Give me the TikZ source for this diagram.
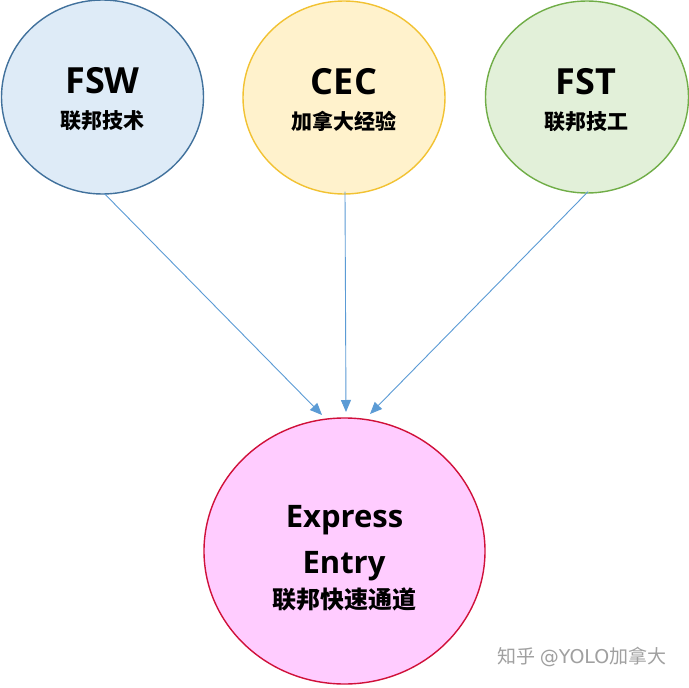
\documentclass[tikz,border=0pt]{standalone}
\usepackage{fontspec}
\setmainfont{Open Sans}
\newfontfamily\cjk{Noto Sans CJK SC}
\newfontfamily\wmlat{DejaVu Sans}
\usetikzlibrary{shapes.geometric,arrows.meta}
\definecolor{fswf}{HTML}{DEEBF7}
\definecolor{fswd}{HTML}{41719C}
\definecolor{cecf}{HTML}{FFF2CC}
\definecolor{cecd}{HTML}{F2C232}
\definecolor{fstf}{HTML}{E2F0D9}
\definecolor{fstd}{HTML}{70AD47}
\definecolor{eef}{HTML}{FFCCFF}
\definecolor{eed}{HTML}{D0103A}
\definecolor{arr}{HTML}{5B9BD5}
\definecolor{wm}{HTML}{A0A0A0}
\begin{document}
\begin{tikzpicture}[x=1pt,y=-1pt,
  bub/.style={ellipse,line width=1.4pt,inner sep=0pt},
  ttl/.style={anchor=base,inner sep=0pt,font=\fontsize{36}{36}\selectfont\bfseries},
  eet/.style={anchor=base,inner sep=0pt,font=\fontsize{31}{31}\selectfont\bfseries},
  sub/.style={anchor=center,inner sep=0pt,font=\fontsize{21}{21}\selectfont\cjk\bfseries},
  eesub/.style={anchor=center,inner sep=0pt,font=\fontsize{24}{24}\selectfont\cjk\bfseries},
  con/.style={draw=arr,line width=0.9pt,-{Triangle[length=12pt,width=10pt]}}]
\useasboundingbox (0,0) rectangle (689,688);
\fill[white] (0,0) rectangle (689,688);
\node[bub,draw=fswd,fill=fswf,minimum width=202pt,minimum height=194pt] (fsw) at (102.5,97) {};
\node[bub,draw=cecd,fill=cecf,minimum width=202pt,minimum height=193pt] (cec) at (344,97.5) {};
\node[bub,draw=fstd,fill=fstf,minimum width=203pt,minimum height=192pt] (fst) at (587,97) {};
\node[bub,draw=eed,fill=eef,minimum width=281pt,minimum height=266pt] (ee) at (344.5,551) {};
\node[ttl] (fswt) at (102.5,93) {FSW};
\node[sub] (fswc) at (102.5,121) {联邦技术};
\node[ttl] (cect) at (344,94) {CEC};
\node[sub] (cecc) at (344,121) {加拿大经验};
\node[ttl] (fstt) at (586,94) {FST};
\node[sub] (fstc) at (586,121.5) {联邦技工};
\node[eet] (eet1) at (344.5,527) {Express};
\node[eet] (eet2) at (344,573) {Entry};
\node[eesub] (eec) at (344,599) {联邦快速通道};
\node[anchor=center,inner sep=0pt,text=wm,font=\fontsize{19}{19}\selectfont\cjk] (wmk) at (582,657) {知乎 {\wmlat @YOLO}加拿大};
\coordinate (t1) at (322,415);
\coordinate (t2) at (346,412);
\coordinate (t3) at (370,414);
\draw[con] ([xshift=2pt,yshift=1pt]fsw.south) -- (t1);
\draw[con] ([xshift=1pt,yshift=3pt]cec.south) -- (t2);
\draw[con] ([xshift=1pt,yshift=2pt]fst.south) -- (t3);
\end{tikzpicture}
\end{document}
